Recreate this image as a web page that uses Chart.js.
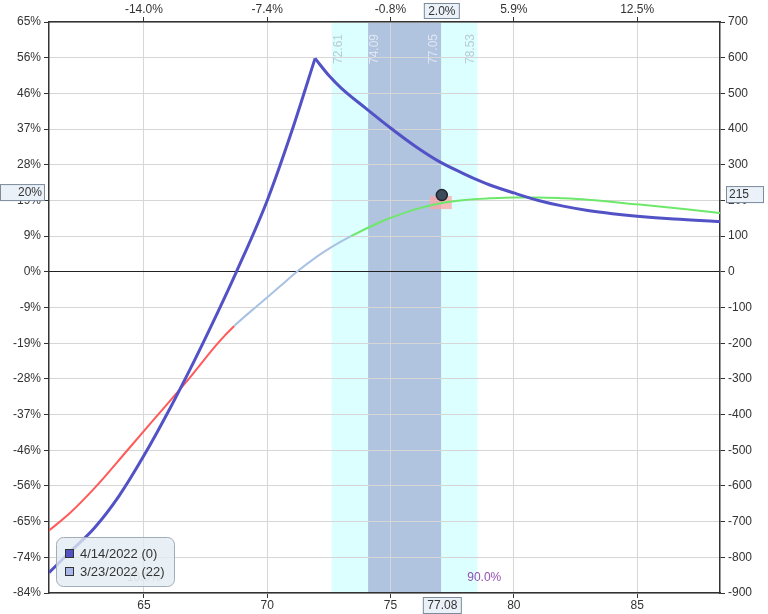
<!DOCTYPE html>
<html>
<head>
<meta charset="utf-8">
<script src="https://cdn.jsdelivr.net/npm/chart.js@4.4.1/dist/chart.umd.min.js"></script>
<style>
  html, body { margin: 0; padding: 0; background: #fff; }
  #wrap { width: 768px; height: 614px; position: relative; }
</style>
</head>
<body>
<div id="wrap"><canvas id="myChart"></canvas></div>
<script>
// axis ticks and labels
const xTicks = [65, 70, 75, 80, 85];
const topTickLabels = ['-14.0%', '-7.4%', '-0.8%', '5.9%', '12.5%'];
const yTicks = [700, 600, 500, 400, 300, 200, 100, 0, -100, -200, -300, -400, -500, -600, -700, -800, -900];
const leftTickLabels = ['65%', '56%', '46%', '37%', '28%', '19%', '9%', '0%', '-9%', '-19%', '-28%', '-37%', '-46%', '-56%', '-65%', '-74%', '-84%'];

// 4/14/2022 (0) - expiration curve
const expiryPrice = [61.15, 62, 63, 64, 65, 66, 67, 68, 68.75, 70, 71, 71.94, 72.5, 73, 74, 75, 76, 77, 78, 78.64, 79, 80, 81, 82, 83, 84, 85, 86.5, 88.36];
const expiryPL = [-843, -785, -717, -627, -515, -390, -255, -112, 0, 200, 395, 598, 550, 515, 458, 403, 352, 308, 274, 254, 244, 221, 200, 184, 172, 163, 156, 148, 141];

// 3/23/2022 (22) - today curve
const todayPrice = [61.15, 62, 63.08, 64.33, 65.6, 66.82, 68.0, 68.66, 69.6, 70.53, 71.2, 72, 72.62, 73.4, 74.64, 75, 76, 77.08, 78, 79, 80, 81, 82, 83, 85, 87, 88.36];
const todayPL = [-725, -676, -600, -500, -398, -300, -200, -152, -95, -40, 0, 42, 70, 100, 141, 151, 175, 193, 201.5, 206, 208.5, 208.5, 206, 202, 189, 175, 165];
const redUntil = 68.66;
const greenFrom = 73.4;

// current price / P&L
const currentPrice = 77.08;
const currentPL = 215;
const currentPct = '2.0%';
const currentPLPct = '20%';

// std-dev bands
const outerBand = [72.61, 78.53];
const innerBand = [74.09, 77.05];
const bandLabels = ['72.61', '74.09', '77.05', '78.53'];

const probLabels = ['10.0%', '90.0%'];
const probAt = [65.0, 78.8];

const legendNames = ['4/14/2022 (0)', '3/23/2022 (22)'];

const xMin = 61.15, xMax = 88.36;
const FONT = "'Liberation Sans', Arial, sans-serif";

const BLUE = '#5252c6';
const RED = '#ff5a5a';
const LIGHT = '#a9c2e4';
const GREEN = '#6ee86a';

const toXY = (xs, ys) => xs.map((x, i) => ({x: x, y: ys[i]}));
const peakIdx = expiryPL.indexOf(Math.max(...expiryPL));

function box(ctx, x, y, w, h, text, align) {
    ctx.save();
    ctx.fillStyle = '#eaf1f8';
    ctx.fillRect(x, y, w, h);
    ctx.strokeStyle = '#7c8a9a';
    ctx.lineWidth = 1;
    ctx.strokeRect(x + 0.5, y + 0.5, w - 1, h - 1);
    ctx.fillStyle = '#333';
    ctx.font = '12px ' + FONT;
    ctx.textBaseline = 'middle';
    ctx.textAlign = align;
    let tx = align === 'right' ? x + w - 3 : (align === 'left' ? x + 3 : x + w / 2);
    ctx.fillText(text, tx, y + h / 2 + 0.5);
    ctx.restore();
}

const bandsPlugin = {
    id: 'bands',
    beforeDraw(chart) {
        const ctx = chart.ctx, a = chart.chartArea, xs = chart.scales.x;
        ctx.save();
        ctx.fillStyle = '#ffffff';
        ctx.fillRect(0, 0, chart.width, chart.height);
        let x0 = xs.getPixelForValue(outerBand[0]), x1 = xs.getPixelForValue(outerBand[1]);
        ctx.fillStyle = '#dcffff';
        ctx.fillRect(x0, a.top, x1 - x0, a.bottom - a.top);
        x0 = xs.getPixelForValue(innerBand[0]); x1 = xs.getPixelForValue(innerBand[1]);
        ctx.fillStyle = '#b0c3df';
        ctx.fillRect(x0, a.top, x1 - x0, a.bottom - a.top);
        ctx.restore();
    },
    beforeDatasetsDraw(chart) {
        const ctx = chart.ctx, a = chart.chartArea, xs = chart.scales.x, ys = chart.scales.y;
        const edges = [outerBand[0], innerBand[0], innerBand[1], outerBand[1]];
        ctx.save();
        ctx.font = '12px ' + FONT;
        ctx.textBaseline = 'middle';
        ctx.textAlign = 'left';
        edges.forEach((v, i) => {
            const px = xs.getPixelForValue(v) + (i < 2 ? 7 : -7);
            ctx.save();
            ctx.translate(px, a.top + 42);
            ctx.rotate(-Math.PI / 2);
            ctx.fillStyle = (i === 1 || i === 2) ? '#dfe7f2' : '#b9ccd6';
            ctx.fillText(bandLabels[i], 0, 0);
            ctx.restore();
        });
        // pink highlight under the current marker
        const mx = xs.getPixelForValue(currentPrice), my = ys.getPixelForValue(currentPL);
        ctx.fillStyle = 'rgba(255,165,165,0.75)';
        ctx.fillRect(mx - 12, my + 1, 22, 13);
        // probability labels
        ctx.font = '12px ' + FONT;
        ctx.textAlign = 'center';
        ctx.fillStyle = '#aab4c0';
        ctx.fillText(probLabels[0], xs.getPixelForValue(probAt[0]), a.bottom - 15);
        ctx.fillStyle = '#9450b4';
        ctx.fillText(probLabels[1], xs.getPixelForValue(probAt[1]), a.bottom - 15);
        ctx.restore();
    },
    afterDraw(chart) {
        const ctx = chart.ctx, a = chart.chartArea, xs = chart.scales.x, ys = chart.scales.y;
        const mx = xs.getPixelForValue(currentPrice), my = ys.getPixelForValue(currentPL);
        // axis value boxes
        box(ctx, 0, my - 11, 45, 17, currentPLPct, 'right');
        box(ctx, a.right + 6, my - 9, 38, 17, String(currentPL), 'left');
        box(ctx, mx - 18, 3, 36, 16, currentPct, 'center');
        box(ctx, mx - 19, 597, 39, 17, currentPrice.toFixed(2), 'center');
        // legend
        ctx.save();
        const lx = 56, ly = 537, lw = 118, lh = 49;
        ctx.beginPath();
        ctx.roundRect(lx + 0.5, ly + 0.5, lw, lh, 7);
        ctx.fillStyle = 'rgba(226,236,244,0.78)';
        ctx.fill();
        ctx.strokeStyle = '#a2adbb';
        ctx.lineWidth = 1;
        ctx.stroke();
        const sw = [BLUE, '#a9b6ea'];
        ctx.font = '13px ' + FONT;
        ctx.textBaseline = 'middle';
        ctx.textAlign = 'left';
        legendNames.forEach((n, i) => {
            const yy = ly + 16 + i * 18;
            ctx.fillStyle = sw[i];
            ctx.fillRect(lx + 9, yy - 4, 8, 8);
            ctx.strokeStyle = '#333';
            ctx.strokeRect(lx + 9.5, yy - 3.5, 8, 8);
            ctx.fillStyle = '#333';
            ctx.fillText(n, lx + 24, yy + 1);
        });
        ctx.restore();
    }
};

const gridCommon = {
    tickLength: 5,
    tickColor: '#333',
    tickWidth: 1
};
const tickFont = {family: FONT, size: 12};

const ctx = document.getElementById('myChart').getContext('2d');
const myChart = new Chart(ctx, {
    type: 'line',
    data: {
        datasets: [
            {
                label: legendNames[1],
                data: toXY(todayPrice, todayPL),
                borderColor: GREEN,
                borderWidth: 2,
                pointRadius: 0,
                cubicInterpolationMode: 'monotone',
                segment: {
                    borderColor: c => c.p0.parsed.x < redUntil ? RED : (c.p0.parsed.x < greenFrom ? LIGHT : GREEN)
                },
                order: 3
            },
            {
                label: legendNames[0],
                data: toXY(expiryPrice.slice(0, peakIdx + 1), expiryPL.slice(0, peakIdx + 1)),
                borderColor: BLUE,
                borderWidth: 3,
                pointRadius: 0,
                cubicInterpolationMode: 'monotone',
                order: 2
            },
            {
                label: legendNames[0] + ' r',
                data: toXY(expiryPrice.slice(peakIdx), expiryPL.slice(peakIdx)),
                borderColor: BLUE,
                borderWidth: 3,
                pointRadius: 0,
                cubicInterpolationMode: 'monotone',
                order: 2
            },
            {
                type: 'scatter',
                label: 'now',
                data: [{x: currentPrice, y: currentPL}],
                pointRadius: 5.5,
                backgroundColor: '#3e4c5a',
                borderColor: '#1e2630',
                borderWidth: 1.5,
                order: 1
            }
        ]
    },
    options: {
        responsive: true,
        maintainAspectRatio: false,
        animation: false,
        layout: {padding: 0},
        plugins: {legend: {display: false}, tooltip: {enabled: false}},
        scales: {
            x: {
                type: 'linear', position: 'bottom', min: xMin, max: xMax,
                afterBuildTicks: s => { s.ticks = xTicks.map(v => ({value: v})); },
                afterFit: s => { s.height = 21; },
                grid: Object.assign({color: '#d6d6d6'}, gridCommon),
                border: {color: '#333', width: 1.5},
                ticks: {font: tickFont, color: '#333', padding: 0, maxRotation: 0}
            },
            xTop: {
                type: 'linear', position: 'top', min: xMin, max: xMax,
                afterBuildTicks: s => { s.ticks = xTicks.map(v => ({value: v})); },
                afterFit: s => { s.height = 22; },
                grid: Object.assign({drawOnChartArea: false}, gridCommon),
                border: {color: '#333', width: 1.5},
                ticks: {font: tickFont, color: '#333', padding: 0, maxRotation: 0,
                    callback: v => topTickLabels[xTicks.indexOf(v)]}
            },
            y: {
                type: 'linear', position: 'right', min: -900, max: 700,
                afterBuildTicks: s => { s.ticks = yTicks.slice().reverse().map(v => ({value: v})); },
                afterFit: s => { s.width = 48; },
                grid: Object.assign({color: c => (c.tick && c.tick.value === 0) ? '#222' : '#d6d6d6'}, gridCommon),
                border: {color: '#333', width: 1.5},
                ticks: {font: tickFont, color: '#333', padding: 3}
            },
            yLeft: {
                type: 'linear', position: 'left', min: -900, max: 700,
                afterBuildTicks: s => { s.ticks = yTicks.slice().reverse().map(v => ({value: v})); },
                afterFit: s => { s.width = 49; },
                grid: Object.assign({drawOnChartArea: false}, gridCommon),
                border: {color: '#333', width: 1.5},
                ticks: {font: tickFont, color: '#333', padding: 3,
                    callback: v => leftTickLabels[yTicks.indexOf(v)]}
            }
        }
    },
    plugins: [bandsPlugin]
});
</script>
</body>
</html>
